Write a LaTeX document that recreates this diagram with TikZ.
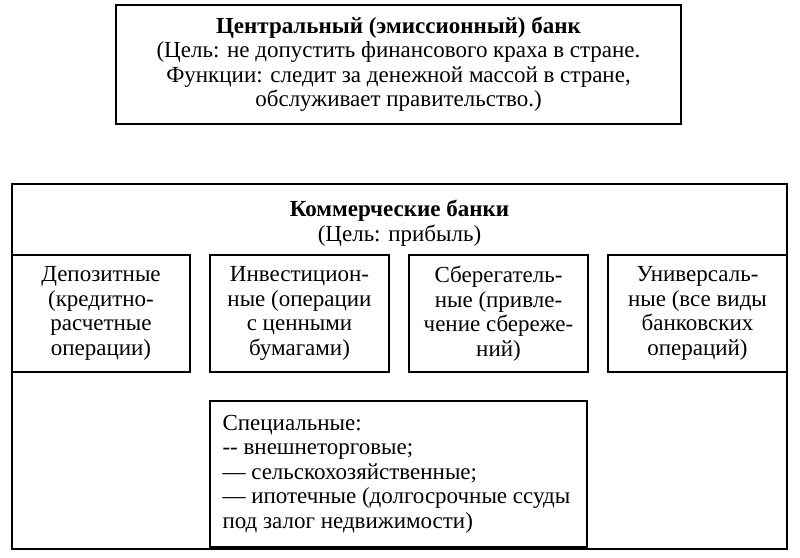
\documentclass[tikz,border=0pt]{standalone}
\usepackage{fontspec}
\setmainfont{Liberation Serif}
\usetikzlibrary{positioning}
\tikzset{
  bankbox/.style={draw, line width=1.2pt, inner sep=0pt},
  banktext/.style={align=center, font=\fontsize{23}{24.5}\selectfont},
}
\begin{document}
\begin{tikzpicture}[x=1pt,y=-1pt]
\useasboundingbox (0,0) rectangle (800,557);
% центральный банк
\draw[bankbox] (116,5) rectangle (681,124);
\node[banktext] (central) at (398.5,64) {\textbf{Центральный (эмиссионный) банк}\\(Цель: не допустить финансового краха в стране.\\Функции: следит за денежной массой в стране,\\обслуживает правительство.)};
% коммерческие банки
\draw[bankbox] (12,184) rectangle (787,549);
\node[banktext] (commerce) at (399.5,223) {\textbf{Коммерческие банки}\\(Цель: прибыль)};
\draw[bankbox] (12,255) rectangle (190,372);
\node[banktext] (deposit) at (101,313.5) {Депозитные\\(кредитно-\\расчетные\\операции)};
\draw[bankbox] (210,255) rectangle (389,372);
\node[banktext] (invest) at (299.5,313.5) {Инвестицион-\\ные (операции\\с ценными\\бумагами)};
\draw[bankbox] (409,255) rectangle (588,372);
\node[banktext] (savings) at (498.5,313.5) {Сберегатель-\\ные (привле-\\чение сбереже-\\ний)};
\draw[bankbox] (608,255) rectangle (787,372);
\node[banktext] (universal) at (697.5,313.5) {Универсаль-\\ные (все виды\\банковских\\операций)};
\draw[bankbox] (210,401) rectangle (587,547);
\node[banktext, align=left, anchor=west] (special) at (219,474) {Специальные:\\-{}- внешнеторговые;\\— сельскохозяйственные;\\— ипотечные (долгосрочные ссуды\\под залог недвижимости)};
\end{tikzpicture}
\end{document}
